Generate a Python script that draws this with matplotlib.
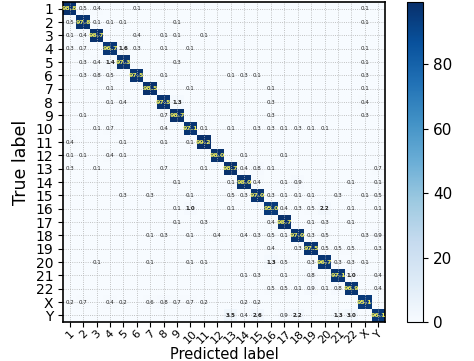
import numpy as np
import matplotlib
matplotlib.use("Agg")
import matplotlib.pyplot as plt

labels = [str(i) for i in range(1, 23)] + ["X", "Y"]

# confusion matrix in percent, rows = true label, cols = predicted label
# each row: {column label: value}, empty cells are 0
rows = [
    {"1": 98.8, "2": 0.5, "3": 0.4, "6": 0.1, "X": 0.1},
    {"1": 0.5, "2": 97.8, "3": 0.1, "4": 0.1, "5": 0.1, "9": 0.1, "X": 0.1},
    {"1": 0.1, "2": 0.4, "3": 98.7, "6": 0.4, "8": 0.1, "9": 0.1, "11": 0.1},
    {"1": 0.3, "2": 0.7, "4": 96.7, "5": 1.6, "6": 0.3, "8": 0.1, "10": 0.1, "X": 0.1},
    {"2": 0.3, "3": 0.4, "4": 1.4, "5": 97.3, "9": 0.3, "X": 0.1},
    {"2": 0.3, "3": 0.8, "4": 0.5, "6": 97.5, "8": 0.1, "13": 0.1, "14": 0.3, "15": 0.1, "X": 0.3},
    {"4": 0.1, "7": 98.5, "10": 0.1, "16": 0.1, "X": 0.1},
    {"4": 0.1, "5": 0.4, "8": 97.5, "9": 1.3, "16": 0.3, "X": 0.4},
    {"2": 0.1, "8": 0.7, "9": 98.7, "16": 0.3, "X": 0.3},
    {"3": 0.1, "4": 0.7, "8": 0.4, "10": 97.1, "11": 0.1, "13": 0.1, "15": 0.3, "16": 0.3,
     "17": 0.1, "18": 0.3, "19": 0.1, "20": 0.1},
    {"1": 0.4, "5": 0.1, "8": 0.1, "10": 0.1, "11": 99.2},
    {"1": 0.1, "2": 0.1, "4": 0.4, "5": 0.1, "12": 98.0, "14": 0.1, "17": 0.1},
    {"1": 0.3, "3": 0.1, "8": 0.7, "11": 0.1, "13": 98.7, "14": 0.4, "15": 0.8, "16": 0.1, "Y": 0.7},
    {"9": 0.1, "13": 0.1, "14": 98.0, "15": 0.4, "17": 0.1, "18": 0.9, "22": 0.1, "Y": 0.1},
    {"5": 0.3, "7": 0.3, "10": 0.1, "13": 0.5, "14": 0.3, "15": 97.0, "16": 0.3, "17": 0.1,
     "18": 0.1, "19": 0.1, "21": 0.3, "X": 0.1, "Y": 0.5},
    {"9": 0.1, "10": 1.0, "13": 0.1, "16": 95.0, "17": 0.4, "18": 0.3, "19": 0.5, "20": 2.2,
     "22": 0.1, "Y": 0.1},
    {"9": 0.1, "11": 0.3, "16": 0.4, "17": 98.7, "19": 0.1, "20": 0.3, "22": 0.1},
    {"7": 0.1, "8": 0.3, "10": 0.1, "12": 0.4, "14": 0.4, "15": 0.3, "16": 0.5, "17": 0.1,
     "18": 97.0, "19": 0.3, "20": 0.5, "X": 0.3, "Y": 0.9},
    {"16": 0.4, "18": 0.3, "19": 97.5, "20": 0.5, "21": 0.5, "22": 0.5, "Y": 0.3},
    {"3": 0.1, "7": 0.1, "10": 0.1, "11": 0.1, "16": 1.3, "17": 0.5, "19": 0.3, "20": 96.7,
     "21": 0.3, "22": 0.3, "X": 0.1},
    {"14": 0.1, "15": 0.3, "17": 0.1, "19": 0.8, "21": 97.1, "22": 1.0, "Y": 0.4},
    {"16": 0.5, "17": 0.5, "18": 0.1, "19": 0.9, "20": 0.1, "21": 0.8, "22": 96.9, "Y": 0.4},
    {"1": 0.2, "2": 0.7, "4": 0.4, "5": 0.2, "7": 0.6, "8": 0.8, "9": 0.7, "10": 0.7, "11": 0.2,
     "14": 0.2, "15": 0.2, "X": 95.1},
    {"13": 3.5, "14": 0.4, "15": 2.6, "17": 0.9, "18": 2.2, "21": 1.3, "22": 3.0, "Y": 96.1},
]

n = len(labels)
cm = np.zeros((n, n))
for i, r in enumerate(rows):
    for k, v in r.items():
        cm[i, labels.index(k)] = v

fig = plt.figure(figsize=(4.74, 3.61), dpi=100)
ax = fig.add_axes([0.133, 0.108, 0.679, 0.886])
cax = fig.add_axes([0.859, 0.108, 0.034, 0.886])

im = ax.imshow(cm, cmap="Blues", interpolation="nearest", aspect="auto")
cb = fig.colorbar(im, cax=cax)
cb.ax.tick_params(labelsize=11)

ax.set_xticks(np.arange(n))
ax.set_yticks(np.arange(n))
ax.set_xticklabels(labels, rotation=45, fontsize=8)
ax.set_yticklabels(labels, fontsize=10)
ax.tick_params(axis="x", pad=1)
ax.set_xlabel("Predicted label", fontsize=10.5, labelpad=1)
ax.set_ylabel("True label", fontsize=12.5)
ax.grid(True, linestyle=":", linewidth=0.6, color="#b0b0b0")
for s in ax.spines.values():
    s.set_linewidth(1.2)

for i in range(n):
    for j in range(n):
        v = cm[i, j]
        if v == 0:
            continue
        if i == j:
            ax.text(j, i, format(v, ".1f"), ha="center", va="center",
                    fontsize=4.5, color="#e8e85a", fontweight="bold")
        else:
            ax.text(j, i, format(v, ".1f"), ha="center", va="center", fontsize=4,
                    color="#222222", fontweight="bold" if v >= 1 else "normal")

fig.savefig("out.png", dpi=100)
